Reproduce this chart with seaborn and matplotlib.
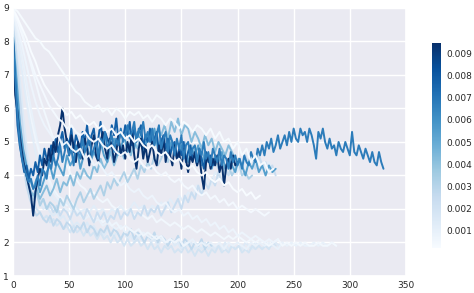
import numpy as np
import pandas as pd
import matplotlib
matplotlib.use("Agg")
import matplotlib.pyplot as plt
import seaborn as sns

# learning rates (colour values) of each run
lr_s1 = 0.0068
lr_s2 = 0.0094
lr_s3 = 0.0055
lr_s4 = 0.0042
lr_s5 = 0.0032
lr_s6 = 0.0024
lr_s7 = 0.0019
lr_s8 = 0.0014
lr_s9 = 0.0009
lr_s10 = 0.0005
lr_s11 = 0.0003
lr_s12 = 0.0007
lr_s13 = 0.0012
lr_s14 = 0.0078
lr_s15 = 0.0004
lr_s16 = 0.0027
lr_s17 = 0.0002
lr_s18 = 0.0006

# loss values (sampled every `step` iterations)
s1 = [8.0, 6.9, 5.8, 5.0, 4.5, 4.2, 4.0, 3.8, 3.9, 3.6, 3.7,
      4.0, 3.7, 4.2, 4.1, 3.9, 4.4, 4.2, 4.6, 4.3, 4.5,
      4.9, 4.4, 4.7, 5.0, 4.6, 4.8, 4.3, 4.9, 4.7, 4.5,
      5.1, 4.7, 4.9, 5.2, 4.6, 4.8, 5.0, 4.5, 5.1, 4.9,
      5.3, 4.8, 5.0, 5.2, 4.7, 5.1, 4.9, 5.4, 5.0, 5.2,
      5.5, 5.1, 5.3, 5.6, 5.0, 5.4, 5.2, 5.6, 5.1, 5.3,
      5.0, 5.4, 4.9, 5.2, 5.5, 4.8, 5.1, 5.3, 4.7, 5.2,
      5.0, 4.6, 5.1, 4.8, 5.2, 4.5, 4.9, 5.0, 4.6, 4.8,
      4.9, 4.4, 4.8, 4.6, 5.0, 4.5, 4.7, 4.3, 4.8, 4.6,
      4.4, 4.8, 4.3, 4.6, 4.5, 4.2, 4.7, 4.4, 4.6, 4.3,
      4.5, 4.2, 4.6, 4.4, 4.3, 4.7, 4.5, 4.4, 4.8, 4.6,
      4.9, 4.6, 5.0, 4.8, 5.1, 4.7, 4.9, 5.2, 4.8, 5.0,
      5.2, 4.9, 5.3, 5.0, 5.4, 5.1, 5.0, 5.4, 5.2, 5.3,
      5.0, 5.4, 5.2, 4.9, 4.5, 5.3, 5.1, 5.4, 5.0, 4.8,
      5.1, 4.8, 4.9, 4.6, 5.0, 4.8, 4.7, 5.0, 4.8, 4.6,
      5.3, 4.7, 4.6, 4.9, 4.7, 4.5, 4.8, 4.6, 4.4, 4.7,
      4.4, 4.3, 4.7, 4.4, 4.2]
s2 = [8.0, 6.4, 5.9, 5.2, 4.7, 4.3, 4.0, 3.7, 3.4, 2.8, 3.5,
      3.9, 4.2, 4.0, 4.5, 4.3, 4.8, 4.4, 5.0, 4.7, 5.2,
      5.5, 6.0, 5.4, 5.0, 4.6, 5.2, 4.9, 4.4, 5.0, 4.7,
      4.5, 5.1, 4.8, 4.3, 4.9, 5.2, 4.6, 4.4, 5.0, 5.3,
      4.8, 4.5, 5.1, 4.9, 4.4, 4.7, 5.2, 4.6, 4.9, 4.5,
      5.0, 4.7, 5.3, 4.6, 4.2, 4.8, 5.1, 4.5, 4.9, 4.4,
      4.7, 5.0, 4.5, 4.3, 4.9, 4.6, 5.1, 4.4, 4.8, 4.6,
      4.3, 4.9, 4.5, 4.7, 4.2, 4.8, 4.5, 4.1, 4.6, 4.4,
      4.7, 4.3, 4.6, 4.0, 3.6, 4.4, 4.6, 4.2, 4.5, 4.3,
      4.6, 4.1, 4.4, 3.7, 4.3, 4.5, 4.2, 4.6, 4.3, 4.4]
s3 = [8.1, 6.9, 5.6, 4.8, 4.3, 3.9, 3.6, 3.9, 3.5, 3.8, 4.1, 4.3, 3.9, 4.4, 4.2, 4.0, 4.6, 4.3, 4.5, 4.8,
      4.2, 4.6, 4.9, 4.4, 4.7, 4.5, 5.0, 4.6, 4.4, 4.9, 5.1, 4.6, 4.8, 5.2, 4.7, 5.0, 4.8, 5.3, 4.9, 4.7,
      5.2, 5.0, 5.4, 4.8, 5.1, 4.9, 4.6, 5.0, 4.8, 4.5, 4.9, 4.7, 4.4, 4.8, 4.6, 4.9, 4.3, 4.7, 4.5, 4.2,
      4.6, 4.4, 4.7, 4.2, 4.5, 4.3, 4.1, 4.5, 4.3, 4.0, 4.4, 4.2, 4.5, 4.1, 4.3, 4.0, 4.3, 4.1, 4.2]
s4 = [8.2, 6.6, 5.3, 4.5, 4.0, 3.6, 3.4, 3.6, 3.3, 3.5, 3.7, 3.4, 3.6, 3.9, 3.5, 3.8, 3.7, 4.0, 3.7, 4.1,
      3.9, 4.2, 4.0, 3.9, 4.3, 4.1, 4.5, 4.2, 4.4, 4.7, 4.3, 4.6, 4.8, 4.5, 4.9, 4.6, 5.0, 4.8, 5.2, 4.9,
      5.1, 5.3, 4.9, 5.4, 5.2, 5.5, 5.1, 5.6, 5.3, 5.7, 5.2, 5.5, 5.4, 5.0, 5.3, 5.1, 4.8, 5.2, 4.9, 5.1,
      4.7, 5.0, 4.8, 4.6, 4.9, 4.7, 4.5]
s5 = [8.3, 7.1, 5.7, 4.7, 4.0, 3.6, 3.3, 3.5, 3.1, 3.3, 3.0, 3.2, 3.1, 2.9, 3.3, 3.1, 3.4, 3.2, 3.0, 3.3,
      3.5, 3.2, 3.4, 3.6, 3.3, 3.5, 3.7, 3.4, 3.8, 3.6, 3.9, 3.7, 3.9, 4.1, 3.8, 4.0, 4.2, 3.9, 4.3, 4.1,
      4.4, 4.2, 4.6, 4.3, 4.5, 4.8, 4.4, 4.7, 4.9, 4.5, 4.8, 5.0, 4.6, 4.9, 4.7, 4.5, 4.8, 4.4, 4.6, 4.3,
      4.5, 4.2, 4.4, 4.1, 4.3, 4.0, 4.2, 4.4, 4.0, 4.1, 3.9, 4.0]
s6 = [8.5, 7.6, 6.4, 5.3, 4.5, 4.0, 3.6, 3.4, 3.2, 3.3, 3.0, 3.1, 2.9, 3.1, 2.8, 3.0, 2.9, 2.7, 3.0, 2.8,
      2.9, 2.7, 3.0, 2.8, 2.6, 2.9, 2.7, 2.9, 2.6, 2.8, 2.7, 3.0, 2.7, 2.9, 2.8, 3.0, 2.7, 2.9, 2.8, 3.1,
      2.8, 3.0, 2.9, 3.1, 2.8, 3.0, 3.2, 2.9, 3.1, 3.3, 3.0, 3.4, 3.2, 3.5, 3.3, 3.7, 3.4, 3.8, 3.6, 3.9,
      3.7, 4.1, 3.8, 4.2, 4.0, 4.4, 4.1, 4.5, 4.2, 4.6, 4.3, 4.5, 4.2, 4.6, 4.3, 4.4, 4.1, 4.3, 4.0]
s7 = [8.4, 7.2, 5.8, 4.6, 3.9, 3.5, 3.2, 3.0, 2.9, 2.7, 2.8, 2.6, 2.7, 2.5, 2.6, 2.4, 2.5, 2.3, 2.5, 2.3,
      2.4, 2.2, 2.4, 2.2, 2.3, 2.1, 2.3, 2.1, 2.2, 2.0, 2.2, 2.0, 2.1, 1.9, 2.1, 1.9, 2.0, 2.1, 1.9, 2.0,
      1.8, 2.0, 1.8, 1.9, 1.7, 1.9, 1.8, 1.9, 1.7, 1.8, 1.7, 1.9, 1.7, 1.8, 1.6, 1.8, 1.7, 1.8, 1.6, 1.8,
      1.7, 1.9, 1.7, 1.8, 1.7, 1.9, 1.8, 1.9, 1.7, 1.8, 1.7, 1.9, 1.8, 1.9, 1.8, 1.9, 1.8, 2.0, 1.9]
s8 = [8.6, 7.8, 6.9, 5.8, 4.9, 4.2, 3.7, 3.4, 3.2, 3.0, 3.1, 2.9, 2.8, 2.9, 2.7, 2.8, 2.6, 2.7, 2.5, 2.6,
      2.5, 2.4, 2.6, 2.4, 2.5, 2.3, 2.4, 2.2, 2.4, 2.3, 2.2, 2.3, 2.1, 2.3, 2.1, 2.2, 2.0, 2.2, 2.1, 2.0,
      2.2, 2.0, 2.1, 1.9, 2.1, 2.0, 1.9, 2.1, 1.9, 2.0, 1.8, 2.0, 1.9, 2.0, 1.8, 1.9, 1.8, 2.0, 1.8, 1.9,
      1.8, 1.9, 1.8, 2.0, 1.8, 1.9, 1.8, 1.9, 1.8, 2.0, 1.9, 1.8, 2.0, 1.9, 1.8, 2.0, 1.9, 1.9, 2.0, 1.9,
      2.0]
s9 = [8.8, 8.3, 7.6, 6.8, 6.0, 5.3, 4.7, 4.2, 3.8, 3.5, 3.3, 3.1, 3.0, 2.9, 3.0, 2.8, 2.7, 2.8, 2.6, 2.7,
      2.5, 2.6, 2.5, 2.4, 2.5, 2.3, 2.4, 2.3, 2.2, 2.3, 2.2, 2.1, 2.2, 2.1, 2.0, 2.1, 2.0, 2.1, 1.9, 2.0,
      2.1, 1.9, 2.0, 1.9, 2.0, 1.9, 2.0, 1.8, 2.0, 1.9, 2.0, 1.9, 1.8, 2.0, 1.9, 2.0, 1.9, 2.0, 1.9, 1.8,
      2.0, 1.9, 2.0, 1.9, 2.0, 1.9, 1.9, 2.0, 1.9, 2.0, 1.9, 2.0, 1.9]
s10 = [9.0, 8.7, 8.3, 7.8, 7.3, 6.8, 6.3, 5.9, 5.5, 5.1, 4.8, 4.5, 4.3, 4.0, 3.9, 3.7, 3.6, 3.4, 3.5, 3.3,
       3.2, 3.3, 3.1, 3.0, 3.1, 2.9, 3.0, 2.8, 2.9, 2.8, 2.7, 2.8, 2.6, 2.7, 2.6, 2.5, 2.6, 2.5, 2.4, 2.5,
       2.4, 2.3, 2.4, 2.3, 2.2, 2.3, 2.2, 2.1, 2.2, 2.1, 2.2, 2.1, 2.0, 2.1, 2.0, 2.1, 2.0, 1.9, 2.0, 2.1,
       1.9, 2.0, 1.9, 2.0, 1.9, 2.0, 1.9, 1.9, 2.0, 1.9, 1.9, 2.0, 1.9]
s11 = [9.0, 8.9, 8.7, 8.5, 8.3, 8.1, 8.0, 7.8, 7.7, 7.5, 7.3, 7.1, 6.9, 6.7, 6.5, 6.4, 6.2, 6.1, 6.0, 6.1,
       5.9, 6.0, 5.8, 6.0, 5.9, 5.7, 5.9, 5.8, 5.9, 5.7, 5.8, 5.6, 5.8, 5.7, 5.5, 5.7, 5.6, 5.4, 5.6, 5.5,
       5.3, 5.5, 5.4, 5.2, 5.4, 5.1, 5.3, 5.0, 5.1, 4.8, 5.0, 4.6, 4.8, 4.4, 4.6, 4.3, 4.4, 4.1, 4.2]
s12 = [8.9, 8.4, 7.9, 7.3, 6.7, 6.2, 5.8, 5.5, 5.3, 5.1, 5.2, 4.9, 5.0, 4.8, 4.7, 4.8, 4.5, 4.6, 4.3, 4.4,
       4.2, 4.0, 4.1, 3.9, 3.7, 3.8, 3.6, 3.5, 3.6, 3.4, 3.3, 3.4, 3.2, 3.1, 3.2, 3.0, 2.9, 3.0, 2.8, 2.9,
       2.7, 2.8, 2.6, 2.7, 2.5, 2.6, 2.4, 2.5, 2.3, 2.4, 2.2, 2.3, 2.2, 2.1, 2.2, 2.1, 2.0, 2.1, 2.0, 2.1]
s13 = [8.7, 8.0, 7.1, 6.2, 5.4, 4.7, 4.2, 3.8, 3.5, 3.3, 3.2, 3.1, 3.2, 3.0, 3.1, 2.9, 3.0, 2.9, 3.1, 2.9,
       3.0, 2.8, 3.0, 2.9, 3.1, 2.9, 3.0, 3.2, 3.0, 3.1, 2.9, 3.1, 3.0, 3.2, 3.0, 3.3, 3.1, 3.4, 3.2, 3.5,
       3.4, 3.7, 3.5, 3.9, 3.7, 4.1, 3.9, 4.3, 4.0, 4.4, 4.1, 4.5, 4.2, 4.6, 4.3, 4.5, 4.2, 4.4, 4.1]
s14 = [8.1, 6.8, 5.5, 4.9, 4.5, 4.1, 4.3, 3.9, 4.2, 4.0, 4.4,
       4.1, 4.6, 4.3, 4.8, 4.5, 4.4, 4.9, 4.6, 5.1, 4.7,
       5.0, 5.3, 4.8, 5.1, 4.9, 5.4, 4.7, 5.2, 5.0, 4.8,
       5.3, 5.0, 5.5, 4.9, 5.2, 5.4, 4.8, 5.1, 5.6, 5.0,
       5.3, 5.1, 4.9, 5.5, 5.2, 5.7, 5.0, 5.3, 5.1, 5.5,
       5.2, 5.6, 4.9, 5.4, 5.1, 5.3, 5.5, 4.8, 5.2, 5.0,
       5.4, 4.9, 5.1, 5.3, 4.7, 5.0, 5.2, 4.8, 5.1, 4.6,
       4.9, 5.0, 4.5, 4.8, 4.6, 5.0, 4.4, 4.7, 4.9, 4.5,
       4.6, 4.3, 4.8, 4.5, 4.2, 4.7, 4.4, 4.6, 4.3, 4.5]
s15 = [8.9, 8.6, 8.2, 7.8, 7.4, 7.0, 6.7, 6.4, 6.1, 5.9, 5.7, 5.6, 5.4, 5.5, 5.3, 5.2, 5.3, 5.1, 5.0, 5.1,
       4.9, 4.8, 4.9, 4.7, 4.6, 4.7, 4.5, 4.4, 4.5, 4.3, 4.2, 4.3, 4.1, 4.0, 4.1, 3.9, 3.8, 3.9, 3.7, 3.6,
       3.7, 3.5, 3.4, 3.5, 3.3, 3.4, 3.2, 3.3, 3.1, 3.2, 3.0, 3.1, 3.0, 2.9, 3.0, 2.9, 2.8, 2.9]
s16 = [8.4, 7.0, 5.5, 4.4, 3.7, 3.3, 3.0, 2.8, 2.9, 2.7, 2.6, 2.8, 2.5, 2.7, 2.6, 2.4, 2.6, 2.5, 2.3, 2.5,
       2.4, 2.6, 2.3, 2.5, 2.4, 2.2, 2.4, 2.3, 2.5, 2.2, 2.4, 2.3, 2.1, 2.3, 2.2, 2.4, 2.1, 2.3, 2.2, 2.0,
       2.2, 2.1, 2.3, 2.0, 2.2, 2.1, 1.9, 2.1, 2.0, 2.2, 1.9, 2.1, 2.0, 1.8, 2.0, 1.9, 2.1, 1.8, 2.0, 1.9]
s17 = [8.95, 8.7, 8.4, 8.1, 7.7, 7.4, 7.0, 6.7, 6.5, 6.3, 6.1, 6.0, 5.8, 5.9, 5.7, 5.8, 5.6, 5.5, 5.6, 5.4,
       5.5, 5.3, 5.4, 5.2, 5.3, 5.1, 5.2, 5.0, 5.1, 4.9, 4.8, 4.9, 4.7, 4.6, 4.7, 4.5, 4.4, 4.5, 4.3, 4.2,
       4.3, 4.1, 4.0, 4.1, 3.9, 3.8, 3.9, 3.7, 3.8, 3.6, 3.5, 3.6, 3.4, 3.5, 3.3, 3.4]
s18 = [8.8, 8.0, 7.2, 6.4, 5.7, 5.1, 4.6, 4.2, 3.9, 3.6, 3.4, 3.3, 3.1, 3.2, 3.0, 2.9, 3.0, 2.8, 2.7, 2.8,
       2.6, 2.7, 2.5, 2.6, 2.4, 2.5, 2.4, 2.3, 2.4, 2.2, 2.3, 2.2, 2.1, 2.2, 2.0, 2.1, 2.0, 2.1, 1.9, 2.0]

# (values, sampling step, learning rate) in drawing order
runs = [
    (s8, 3, lr_s8), (s7, 3, lr_s7), (s16, 3, lr_s16), (s9, 4, lr_s9), (s18, 4, lr_s18),
    (s10, 4, lr_s10), (s13, 4, lr_s13), (s6, 3, lr_s6), (s5, 3, lr_s5), (s4, 3, lr_s4),
    (s3, 3, lr_s3), (s14, 2, lr_s14), (s2, 2, lr_s2), (s1, 2, lr_s1), (s12, 4, lr_s12),
    (s15, 4, lr_s15), (s17, 4, lr_s17), (s11, 4, lr_s11),
]

cbar_ticks = [0.001, 0.002, 0.003, 0.004, 0.005, 0.006, 0.007, 0.008, 0.009]
x_ticks = [0, 50, 100, 150, 200, 250, 300, 350]
y_ticks = [1, 2, 3, 4, 5, 6, 7, 8, 9]

sns.set_theme(style="darkgrid")
plt.rcParams['font.family'] = ['DejaVu Sans']

fig = plt.figure(figsize=(4.74, 2.93), dpi=100)
ax = fig.add_axes([0.0274, 0.058, 0.829, 0.915])

cmap = plt.get_cmap("Blues")
norm = matplotlib.colors.Normalize(vmin=0.0002, vmax=0.0095)

for vals, step, lr in runs:
    df = pd.DataFrame({"iter": np.arange(len(vals)) * step, "loss": vals})
    sns.lineplot(data=df, x="iter", y="loss", color=cmap(norm(lr)), lw=1.4, ax=ax)

ax.set_xlim(0, 350)
ax.set_ylim(1, 9)
ax.set_xticks(x_ticks)
ax.set_yticks(y_ticks)
ax.set_xlabel("")
ax.set_ylabel("")
ax.tick_params(axis="x", labelsize=6.5, length=0, pad=3.5)
ax.tick_params(axis="y", labelsize=6.5, length=0, pad=3.0)

cax = fig.add_axes([0.911, 0.154, 0.019, 0.70])
sm = matplotlib.cm.ScalarMappable(norm=norm, cmap=cmap)
sm.set_array([])
cb = fig.colorbar(sm, cax=cax, ticks=cbar_ticks)
cb.outline.set_visible(False)
cb.ax.tick_params(labelsize=6.5, length=0, pad=4)
cb.ax.set_yticklabels([f"{t:.3f}" for t in cbar_ticks])

fig.savefig("out.png", dpi=100)
